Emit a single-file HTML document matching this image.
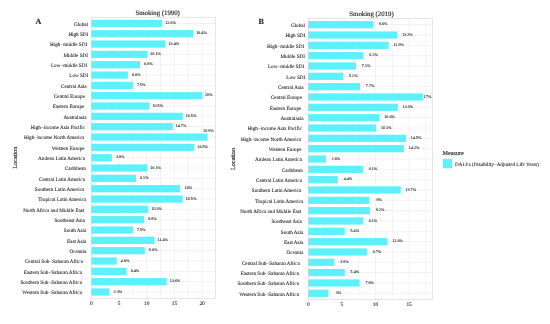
<!DOCTYPE html>
<html><head><meta charset="utf-8"><style>
html,body{margin:0;padding:0;background:#fff;}
svg{display:block;will-change:transform;}
text{font-family:"Liberation Serif",serif;fill:#222;stroke:#222;stroke-width:0.08px;text-rendering:geometricPrecision;}
text.big{stroke-width:0.14px;}
</style></head><body>
<svg width="550" height="324" viewBox="0 0 550 324">
<rect width="550" height="324" fill="#fff"/>
<g>
<line x1="105.15" y1="17.2" x2="105.15" y2="298.2" stroke="#e4e4e4" stroke-width="0.5"/>
<line x1="132.85" y1="17.2" x2="132.85" y2="298.2" stroke="#e4e4e4" stroke-width="0.5"/>
<line x1="160.55" y1="17.2" x2="160.55" y2="298.2" stroke="#e4e4e4" stroke-width="0.5"/>
<line x1="188.25" y1="17.2" x2="188.25" y2="298.2" stroke="#e4e4e4" stroke-width="0.5"/>
<line x1="119.00" y1="17.2" x2="119.00" y2="298.2" stroke="#e4e4e4" stroke-width="0.5"/>
<line x1="146.70" y1="17.2" x2="146.70" y2="298.2" stroke="#e4e4e4" stroke-width="0.5"/>
<line x1="174.40" y1="17.2" x2="174.40" y2="298.2" stroke="#e4e4e4" stroke-width="0.5"/>
<line x1="202.10" y1="17.2" x2="202.10" y2="298.2" stroke="#e4e4e4" stroke-width="0.5"/>
<line x1="91.3" y1="23.40" x2="215.7" y2="23.40" stroke="#e4e4e4" stroke-width="0.5"/>
<line x1="91.3" y1="33.73" x2="215.7" y2="33.73" stroke="#e4e4e4" stroke-width="0.5"/>
<line x1="91.3" y1="44.06" x2="215.7" y2="44.06" stroke="#e4e4e4" stroke-width="0.5"/>
<line x1="91.3" y1="54.39" x2="215.7" y2="54.39" stroke="#e4e4e4" stroke-width="0.5"/>
<line x1="91.3" y1="64.72" x2="215.7" y2="64.72" stroke="#e4e4e4" stroke-width="0.5"/>
<line x1="91.3" y1="75.05" x2="215.7" y2="75.05" stroke="#e4e4e4" stroke-width="0.5"/>
<line x1="91.3" y1="85.38" x2="215.7" y2="85.38" stroke="#e4e4e4" stroke-width="0.5"/>
<line x1="91.3" y1="95.71" x2="215.7" y2="95.71" stroke="#e4e4e4" stroke-width="0.5"/>
<line x1="91.3" y1="106.05" x2="215.7" y2="106.05" stroke="#e4e4e4" stroke-width="0.5"/>
<line x1="91.3" y1="116.38" x2="215.7" y2="116.38" stroke="#e4e4e4" stroke-width="0.5"/>
<line x1="91.3" y1="126.71" x2="215.7" y2="126.71" stroke="#e4e4e4" stroke-width="0.5"/>
<line x1="91.3" y1="137.04" x2="215.7" y2="137.04" stroke="#e4e4e4" stroke-width="0.5"/>
<line x1="91.3" y1="147.37" x2="215.7" y2="147.37" stroke="#e4e4e4" stroke-width="0.5"/>
<line x1="91.3" y1="157.70" x2="215.7" y2="157.70" stroke="#e4e4e4" stroke-width="0.5"/>
<line x1="91.3" y1="168.03" x2="215.7" y2="168.03" stroke="#e4e4e4" stroke-width="0.5"/>
<line x1="91.3" y1="178.36" x2="215.7" y2="178.36" stroke="#e4e4e4" stroke-width="0.5"/>
<line x1="91.3" y1="188.69" x2="215.7" y2="188.69" stroke="#e4e4e4" stroke-width="0.5"/>
<line x1="91.3" y1="199.02" x2="215.7" y2="199.02" stroke="#e4e4e4" stroke-width="0.5"/>
<line x1="91.3" y1="209.35" x2="215.7" y2="209.35" stroke="#e4e4e4" stroke-width="0.5"/>
<line x1="91.3" y1="219.69" x2="215.7" y2="219.69" stroke="#e4e4e4" stroke-width="0.5"/>
<line x1="91.3" y1="230.02" x2="215.7" y2="230.02" stroke="#e4e4e4" stroke-width="0.5"/>
<line x1="91.3" y1="240.35" x2="215.7" y2="240.35" stroke="#e4e4e4" stroke-width="0.5"/>
<line x1="91.3" y1="250.68" x2="215.7" y2="250.68" stroke="#e4e4e4" stroke-width="0.5"/>
<line x1="91.3" y1="261.01" x2="215.7" y2="261.01" stroke="#e4e4e4" stroke-width="0.5"/>
<line x1="91.3" y1="271.34" x2="215.7" y2="271.34" stroke="#e4e4e4" stroke-width="0.5"/>
<line x1="91.3" y1="281.67" x2="215.7" y2="281.67" stroke="#e4e4e4" stroke-width="0.5"/>
<line x1="91.3" y1="292.00" x2="215.7" y2="292.00" stroke="#e4e4e4" stroke-width="0.5"/>
<rect x="91.30" y="19.78" width="70.91" height="7.23" fill="#5df1fd"/>
<rect x="91.30" y="30.11" width="101.94" height="7.23" fill="#5df1fd"/>
<rect x="91.30" y="40.44" width="74.24" height="7.23" fill="#5df1fd"/>
<rect x="91.30" y="50.78" width="55.95" height="7.23" fill="#5df1fd"/>
<rect x="91.30" y="61.11" width="48.75" height="7.23" fill="#5df1fd"/>
<rect x="91.30" y="71.44" width="36.56" height="7.23" fill="#5df1fd"/>
<rect x="91.30" y="81.77" width="41.55" height="7.23" fill="#5df1fd"/>
<rect x="91.30" y="92.10" width="111.08" height="7.23" fill="#5df1fd"/>
<rect x="91.30" y="102.43" width="58.17" height="7.23" fill="#5df1fd"/>
<rect x="91.30" y="112.76" width="91.41" height="7.23" fill="#5df1fd"/>
<rect x="91.30" y="123.09" width="81.44" height="7.23" fill="#5df1fd"/>
<rect x="91.30" y="133.42" width="116.34" height="7.23" fill="#5df1fd"/>
<rect x="91.30" y="143.75" width="103.04" height="7.23" fill="#5df1fd"/>
<rect x="91.30" y="154.08" width="20.61" height="7.23" fill="#5df1fd"/>
<rect x="91.30" y="164.42" width="55.95" height="7.23" fill="#5df1fd"/>
<rect x="91.30" y="174.75" width="44.71" height="7.23" fill="#5df1fd"/>
<rect x="91.30" y="185.08" width="88.86" height="7.23" fill="#5df1fd"/>
<rect x="91.30" y="195.41" width="91.41" height="7.23" fill="#5df1fd"/>
<rect x="91.30" y="205.74" width="57.06" height="7.23" fill="#5df1fd"/>
<rect x="91.30" y="216.07" width="52.91" height="7.23" fill="#5df1fd"/>
<rect x="91.30" y="226.40" width="41.55" height="7.23" fill="#5df1fd"/>
<rect x="91.30" y="236.73" width="63.16" height="7.23" fill="#5df1fd"/>
<rect x="91.30" y="247.06" width="53.52" height="7.23" fill="#5df1fd"/>
<rect x="91.30" y="257.39" width="25.48" height="7.23" fill="#5df1fd"/>
<rect x="91.30" y="267.72" width="35.29" height="7.23" fill="#5df1fd"/>
<rect x="91.30" y="278.05" width="75.34" height="7.23" fill="#5df1fd"/>
<rect x="91.30" y="288.39" width="18.28" height="7.23" fill="#5df1fd"/>
<text x="170.52" y="24.00" font-size="4.1" text-anchor="middle">12.8%</text>
<text x="201.55" y="34.33" font-size="4.1" text-anchor="middle">18.4%</text>
<text x="173.85" y="44.66" font-size="4.1" text-anchor="middle">13.4%</text>
<text x="155.56" y="54.99" font-size="4.1" text-anchor="middle">10.1%</text>
<text x="148.36" y="65.32" font-size="4.1" text-anchor="middle">8.8%</text>
<text x="136.17" y="75.65" font-size="4.1" text-anchor="middle">6.6%</text>
<text x="141.16" y="85.98" font-size="4.1" text-anchor="middle">7.5%</text>
<text x="208.70" y="96.31" font-size="4.1" text-anchor="middle">20%</text>
<text x="157.78" y="106.65" font-size="4.1" text-anchor="middle">10.5%</text>
<text x="191.02" y="116.98" font-size="4.1" text-anchor="middle">16.5%</text>
<text x="181.05" y="127.31" font-size="4.1" text-anchor="middle">14.7%</text>
<text x="208.50" y="131.90" font-size="4.1" text-anchor="middle">20.9%</text>
<text x="202.65" y="147.97" font-size="4.1" text-anchor="middle">18.5%</text>
<text x="120.22" y="158.30" font-size="4.1" text-anchor="middle">3.8%</text>
<text x="155.56" y="168.63" font-size="4.1" text-anchor="middle">10.1%</text>
<text x="144.32" y="178.96" font-size="4.1" text-anchor="middle">8.1%</text>
<text x="188.47" y="189.29" font-size="4.1" text-anchor="middle">16%</text>
<text x="191.02" y="199.62" font-size="4.1" text-anchor="middle">16.5%</text>
<text x="156.67" y="209.95" font-size="4.1" text-anchor="middle">10.3%</text>
<text x="152.52" y="220.29" font-size="4.1" text-anchor="middle">9.5%</text>
<text x="141.16" y="230.62" font-size="4.1" text-anchor="middle">7.5%</text>
<text x="162.77" y="240.95" font-size="4.1" text-anchor="middle">11.4%</text>
<text x="153.13" y="251.28" font-size="4.1" text-anchor="middle">9.6%</text>
<text x="125.09" y="261.61" font-size="4.1" text-anchor="middle">4.6%</text>
<text x="134.90" y="271.94" font-size="4.1" text-anchor="middle">6.4%</text>
<text x="174.95" y="282.27" font-size="4.1" text-anchor="middle">13.6%</text>
<text x="117.89" y="292.60" font-size="4.1" text-anchor="middle">3.3%</text>
<rect x="91.3" y="17.2" width="124.39999999999999" height="281.0" fill="none" stroke="#cccccc" stroke-width="0.5"/>
<line x1="91.30" y1="298.2" x2="91.30" y2="299.4" stroke="#cccccc" stroke-width="0.5"/>
<text x="91.30" y="305.00" font-size="5.4" text-anchor="middle">0</text>
<line x1="119.00" y1="298.2" x2="119.00" y2="299.4" stroke="#cccccc" stroke-width="0.5"/>
<text x="119.00" y="305.00" font-size="5.4" text-anchor="middle">5</text>
<line x1="146.70" y1="298.2" x2="146.70" y2="299.4" stroke="#cccccc" stroke-width="0.5"/>
<text x="146.70" y="305.00" font-size="5.4" text-anchor="middle">10</text>
<line x1="174.40" y1="298.2" x2="174.40" y2="299.4" stroke="#cccccc" stroke-width="0.5"/>
<text x="174.40" y="305.00" font-size="5.4" text-anchor="middle">15</text>
<line x1="202.10" y1="298.2" x2="202.10" y2="299.4" stroke="#cccccc" stroke-width="0.5"/>
<text x="202.10" y="305.00" font-size="5.4" text-anchor="middle">20</text>
<line x1="90.1" y1="23.40" x2="91.3" y2="23.40" stroke="#cccccc" stroke-width="0.5"/>
<line x1="90.1" y1="33.73" x2="91.3" y2="33.73" stroke="#cccccc" stroke-width="0.5"/>
<line x1="90.1" y1="44.06" x2="91.3" y2="44.06" stroke="#cccccc" stroke-width="0.5"/>
<line x1="90.1" y1="54.39" x2="91.3" y2="54.39" stroke="#cccccc" stroke-width="0.5"/>
<line x1="90.1" y1="64.72" x2="91.3" y2="64.72" stroke="#cccccc" stroke-width="0.5"/>
<line x1="90.1" y1="75.05" x2="91.3" y2="75.05" stroke="#cccccc" stroke-width="0.5"/>
<line x1="90.1" y1="85.38" x2="91.3" y2="85.38" stroke="#cccccc" stroke-width="0.5"/>
<line x1="90.1" y1="95.71" x2="91.3" y2="95.71" stroke="#cccccc" stroke-width="0.5"/>
<line x1="90.1" y1="106.05" x2="91.3" y2="106.05" stroke="#cccccc" stroke-width="0.5"/>
<line x1="90.1" y1="116.38" x2="91.3" y2="116.38" stroke="#cccccc" stroke-width="0.5"/>
<line x1="90.1" y1="126.71" x2="91.3" y2="126.71" stroke="#cccccc" stroke-width="0.5"/>
<line x1="90.1" y1="137.04" x2="91.3" y2="137.04" stroke="#cccccc" stroke-width="0.5"/>
<line x1="90.1" y1="147.37" x2="91.3" y2="147.37" stroke="#cccccc" stroke-width="0.5"/>
<line x1="90.1" y1="157.70" x2="91.3" y2="157.70" stroke="#cccccc" stroke-width="0.5"/>
<line x1="90.1" y1="168.03" x2="91.3" y2="168.03" stroke="#cccccc" stroke-width="0.5"/>
<line x1="90.1" y1="178.36" x2="91.3" y2="178.36" stroke="#cccccc" stroke-width="0.5"/>
<line x1="90.1" y1="188.69" x2="91.3" y2="188.69" stroke="#cccccc" stroke-width="0.5"/>
<line x1="90.1" y1="199.02" x2="91.3" y2="199.02" stroke="#cccccc" stroke-width="0.5"/>
<line x1="90.1" y1="209.35" x2="91.3" y2="209.35" stroke="#cccccc" stroke-width="0.5"/>
<line x1="90.1" y1="219.69" x2="91.3" y2="219.69" stroke="#cccccc" stroke-width="0.5"/>
<line x1="90.1" y1="230.02" x2="91.3" y2="230.02" stroke="#cccccc" stroke-width="0.5"/>
<line x1="90.1" y1="240.35" x2="91.3" y2="240.35" stroke="#cccccc" stroke-width="0.5"/>
<line x1="90.1" y1="250.68" x2="91.3" y2="250.68" stroke="#cccccc" stroke-width="0.5"/>
<line x1="90.1" y1="261.01" x2="91.3" y2="261.01" stroke="#cccccc" stroke-width="0.5"/>
<line x1="90.1" y1="271.34" x2="91.3" y2="271.34" stroke="#cccccc" stroke-width="0.5"/>
<line x1="90.1" y1="281.67" x2="91.3" y2="281.67" stroke="#cccccc" stroke-width="0.5"/>
<line x1="90.1" y1="292.00" x2="91.3" y2="292.00" stroke="#cccccc" stroke-width="0.5"/>
<text x="87.95" y="25.60" font-size="5.15" text-anchor="end">Global</text>
<text x="88.25" y="35.93" font-size="5.15" text-anchor="end">High SDI</text>
<text x="87.15" y="46.26" font-size="5.15" text-anchor="end">High−middle SDI</text>
<text x="87.95" y="56.59" font-size="5.15" text-anchor="end">Middle SDI</text>
<text x="87.15" y="66.92" font-size="5.15" text-anchor="end">Low−middle SDI</text>
<text x="88.25" y="77.25" font-size="5.15" text-anchor="end">Low SDI</text>
<text x="86.65" y="87.58" font-size="5.15" text-anchor="end">Central Asia</text>
<text x="84.95" y="97.91" font-size="5.15" text-anchor="end">Central Europe</text>
<text x="84.25" y="108.25" font-size="5.15" text-anchor="end">Eastern Europe</text>
<text x="86.55" y="118.58" font-size="5.15" text-anchor="end">Australasia</text>
<text x="84.95" y="128.91" font-size="5.15" text-anchor="end">High−income Asia Pacific</text>
<text x="84.25" y="139.24" font-size="5.15" text-anchor="end">High−income North America</text>
<text x="84.55" y="149.57" font-size="5.15" text-anchor="end">Western Europe</text>
<text x="84.95" y="159.90" font-size="5.15" text-anchor="end">Andean Latin America</text>
<text x="85.85" y="170.23" font-size="5.15" text-anchor="end">Caribbean</text>
<text x="84.95" y="180.56" font-size="5.15" text-anchor="end">Central Latin America</text>
<text x="84.25" y="190.89" font-size="5.15" text-anchor="end">Southern Latin America</text>
<text x="86.25" y="201.22" font-size="5.15" text-anchor="end">Tropical Latin America</text>
<text x="84.25" y="211.55" font-size="5.15" text-anchor="end">North Africa and Middle East</text>
<text x="84.95" y="221.89" font-size="5.15" text-anchor="end">Southeast Asia</text>
<text x="86.25" y="232.22" font-size="5.15" text-anchor="end">South Asia</text>
<text x="86.25" y="242.55" font-size="5.15" text-anchor="end">East Asia</text>
<text x="86.25" y="252.88" font-size="5.15" text-anchor="end">Oceania</text>
<text x="82.95" y="263.21" font-size="5.15" text-anchor="end">Central Sub−Saharan Africa</text>
<text x="81.95" y="273.54" font-size="5.15" text-anchor="end">Eastern Sub−Saharan Africa</text>
<text x="81.95" y="283.87" font-size="5.15" text-anchor="end">Southern Sub−Saharan Africa</text>
<text x="81.95" y="294.20" font-size="5.15" text-anchor="end">Western Sub−Saharan Africa</text>
<text x="157.7" y="15.00" font-size="6.8" text-anchor="middle" class="big">Smoking (1990)</text>
<text x="35.6" y="23.6" font-size="8" font-weight="bold" text-anchor="start">A</text>
<text transform="translate(17.1,157.70) rotate(-90)" font-size="6.2" text-anchor="middle" class="big">Location</text>
<line x1="325.10" y1="18.5" x2="325.10" y2="299.5" stroke="#e4e4e4" stroke-width="0.5"/>
<line x1="358.70" y1="18.5" x2="358.70" y2="299.5" stroke="#e4e4e4" stroke-width="0.5"/>
<line x1="392.30" y1="18.5" x2="392.30" y2="299.5" stroke="#e4e4e4" stroke-width="0.5"/>
<line x1="425.90" y1="18.5" x2="425.90" y2="299.5" stroke="#e4e4e4" stroke-width="0.5"/>
<line x1="341.90" y1="18.5" x2="341.90" y2="299.5" stroke="#e4e4e4" stroke-width="0.5"/>
<line x1="375.50" y1="18.5" x2="375.50" y2="299.5" stroke="#e4e4e4" stroke-width="0.5"/>
<line x1="409.10" y1="18.5" x2="409.10" y2="299.5" stroke="#e4e4e4" stroke-width="0.5"/>
<line x1="308.3" y1="24.70" x2="432.6" y2="24.70" stroke="#e4e4e4" stroke-width="0.5"/>
<line x1="308.3" y1="35.03" x2="432.6" y2="35.03" stroke="#e4e4e4" stroke-width="0.5"/>
<line x1="308.3" y1="45.36" x2="432.6" y2="45.36" stroke="#e4e4e4" stroke-width="0.5"/>
<line x1="308.3" y1="55.69" x2="432.6" y2="55.69" stroke="#e4e4e4" stroke-width="0.5"/>
<line x1="308.3" y1="66.02" x2="432.6" y2="66.02" stroke="#e4e4e4" stroke-width="0.5"/>
<line x1="308.3" y1="76.35" x2="432.6" y2="76.35" stroke="#e4e4e4" stroke-width="0.5"/>
<line x1="308.3" y1="86.68" x2="432.6" y2="86.68" stroke="#e4e4e4" stroke-width="0.5"/>
<line x1="308.3" y1="97.01" x2="432.6" y2="97.01" stroke="#e4e4e4" stroke-width="0.5"/>
<line x1="308.3" y1="107.35" x2="432.6" y2="107.35" stroke="#e4e4e4" stroke-width="0.5"/>
<line x1="308.3" y1="117.68" x2="432.6" y2="117.68" stroke="#e4e4e4" stroke-width="0.5"/>
<line x1="308.3" y1="128.01" x2="432.6" y2="128.01" stroke="#e4e4e4" stroke-width="0.5"/>
<line x1="308.3" y1="138.34" x2="432.6" y2="138.34" stroke="#e4e4e4" stroke-width="0.5"/>
<line x1="308.3" y1="148.67" x2="432.6" y2="148.67" stroke="#e4e4e4" stroke-width="0.5"/>
<line x1="308.3" y1="159.00" x2="432.6" y2="159.00" stroke="#e4e4e4" stroke-width="0.5"/>
<line x1="308.3" y1="169.33" x2="432.6" y2="169.33" stroke="#e4e4e4" stroke-width="0.5"/>
<line x1="308.3" y1="179.66" x2="432.6" y2="179.66" stroke="#e4e4e4" stroke-width="0.5"/>
<line x1="308.3" y1="189.99" x2="432.6" y2="189.99" stroke="#e4e4e4" stroke-width="0.5"/>
<line x1="308.3" y1="200.32" x2="432.6" y2="200.32" stroke="#e4e4e4" stroke-width="0.5"/>
<line x1="308.3" y1="210.65" x2="432.6" y2="210.65" stroke="#e4e4e4" stroke-width="0.5"/>
<line x1="308.3" y1="220.99" x2="432.6" y2="220.99" stroke="#e4e4e4" stroke-width="0.5"/>
<line x1="308.3" y1="231.32" x2="432.6" y2="231.32" stroke="#e4e4e4" stroke-width="0.5"/>
<line x1="308.3" y1="241.65" x2="432.6" y2="241.65" stroke="#e4e4e4" stroke-width="0.5"/>
<line x1="308.3" y1="251.98" x2="432.6" y2="251.98" stroke="#e4e4e4" stroke-width="0.5"/>
<line x1="308.3" y1="262.31" x2="432.6" y2="262.31" stroke="#e4e4e4" stroke-width="0.5"/>
<line x1="308.3" y1="272.64" x2="432.6" y2="272.64" stroke="#e4e4e4" stroke-width="0.5"/>
<line x1="308.3" y1="282.97" x2="432.6" y2="282.97" stroke="#e4e4e4" stroke-width="0.5"/>
<line x1="308.3" y1="293.30" x2="432.6" y2="293.30" stroke="#e4e4e4" stroke-width="0.5"/>
<rect x="308.30" y="21.08" width="64.78" height="7.23" fill="#5df1fd"/>
<rect x="308.30" y="31.41" width="89.04" height="7.23" fill="#5df1fd"/>
<rect x="308.30" y="41.74" width="80.30" height="7.23" fill="#5df1fd"/>
<rect x="308.30" y="52.08" width="55.24" height="7.23" fill="#5df1fd"/>
<rect x="308.30" y="62.41" width="47.71" height="7.23" fill="#5df1fd"/>
<rect x="308.30" y="72.74" width="34.94" height="7.23" fill="#5df1fd"/>
<rect x="308.30" y="83.07" width="51.74" height="7.23" fill="#5df1fd"/>
<rect x="308.30" y="93.40" width="114.58" height="7.23" fill="#5df1fd"/>
<rect x="308.30" y="103.73" width="89.58" height="7.23" fill="#5df1fd"/>
<rect x="308.30" y="114.06" width="71.23" height="7.23" fill="#5df1fd"/>
<rect x="308.30" y="124.39" width="67.87" height="7.23" fill="#5df1fd"/>
<rect x="308.30" y="134.72" width="97.78" height="7.23" fill="#5df1fd"/>
<rect x="308.30" y="145.05" width="95.76" height="7.23" fill="#5df1fd"/>
<rect x="308.30" y="155.38" width="17.61" height="7.23" fill="#5df1fd"/>
<rect x="308.30" y="165.72" width="54.63" height="7.23" fill="#5df1fd"/>
<rect x="308.30" y="176.05" width="29.57" height="7.23" fill="#5df1fd"/>
<rect x="308.30" y="186.38" width="92.40" height="7.23" fill="#5df1fd"/>
<rect x="308.30" y="196.71" width="60.75" height="7.23" fill="#5df1fd"/>
<rect x="308.30" y="207.04" width="61.82" height="7.23" fill="#5df1fd"/>
<rect x="308.30" y="217.37" width="54.63" height="7.23" fill="#5df1fd"/>
<rect x="308.30" y="227.70" width="36.42" height="7.23" fill="#5df1fd"/>
<rect x="308.30" y="238.03" width="79.30" height="7.23" fill="#5df1fd"/>
<rect x="308.30" y="248.36" width="58.60" height="7.23" fill="#5df1fd"/>
<rect x="308.30" y="258.69" width="26.07" height="7.23" fill="#5df1fd"/>
<rect x="308.30" y="269.02" width="36.49" height="7.23" fill="#5df1fd"/>
<rect x="308.30" y="279.35" width="51.27" height="7.23" fill="#5df1fd"/>
<rect x="308.30" y="289.69" width="20.16" height="7.23" fill="#5df1fd"/>
<text x="383.16" y="25.30" font-size="4.1" text-anchor="middle">9.6%</text>
<text x="407.42" y="35.63" font-size="4.1" text-anchor="middle">13.2%</text>
<text x="398.68" y="45.96" font-size="4.1" text-anchor="middle">11.9%</text>
<text x="373.62" y="56.29" font-size="4.1" text-anchor="middle">8.2%</text>
<text x="366.09" y="66.62" font-size="4.1" text-anchor="middle">7.1%</text>
<text x="353.32" y="76.95" font-size="4.1" text-anchor="middle">5.2%</text>
<text x="370.12" y="87.28" font-size="4.1" text-anchor="middle">7.7%</text>
<text x="427.60" y="97.61" font-size="4.1" text-anchor="middle">17%</text>
<text x="407.96" y="107.95" font-size="4.1" text-anchor="middle">13.3%</text>
<text x="389.61" y="118.28" font-size="4.1" text-anchor="middle">10.6%</text>
<text x="386.25" y="128.61" font-size="4.1" text-anchor="middle">10.1%</text>
<text x="416.16" y="138.94" font-size="4.1" text-anchor="middle">14.5%</text>
<text x="414.14" y="149.27" font-size="4.1" text-anchor="middle">14.2%</text>
<text x="335.99" y="159.60" font-size="4.1" text-anchor="middle">2.6%</text>
<text x="373.01" y="169.93" font-size="4.1" text-anchor="middle">8.1%</text>
<text x="347.95" y="180.26" font-size="4.1" text-anchor="middle">4.4%</text>
<text x="410.78" y="190.59" font-size="4.1" text-anchor="middle">13.7%</text>
<text x="379.13" y="200.92" font-size="4.1" text-anchor="middle">9%</text>
<text x="380.20" y="211.25" font-size="4.1" text-anchor="middle">9.2%</text>
<text x="373.01" y="221.59" font-size="4.1" text-anchor="middle">8.1%</text>
<text x="354.80" y="231.92" font-size="4.1" text-anchor="middle">5.4%</text>
<text x="397.68" y="242.25" font-size="4.1" text-anchor="middle">11.8%</text>
<text x="376.98" y="252.58" font-size="4.1" text-anchor="middle">8.7%</text>
<text x="344.45" y="262.91" font-size="4.1" text-anchor="middle">3.9%</text>
<text x="354.87" y="273.24" font-size="4.1" text-anchor="middle">5.4%</text>
<text x="369.65" y="283.57" font-size="4.1" text-anchor="middle">7.6%</text>
<text x="338.54" y="293.90" font-size="4.1" text-anchor="middle">3%</text>
<rect x="308.3" y="18.5" width="124.30000000000001" height="281.0" fill="none" stroke="#cccccc" stroke-width="0.5"/>
<line x1="308.30" y1="299.5" x2="308.30" y2="300.7" stroke="#cccccc" stroke-width="0.5"/>
<text x="308.30" y="306.30" font-size="5.4" text-anchor="middle">0</text>
<line x1="341.90" y1="299.5" x2="341.90" y2="300.7" stroke="#cccccc" stroke-width="0.5"/>
<text x="341.90" y="306.30" font-size="5.4" text-anchor="middle">5</text>
<line x1="375.50" y1="299.5" x2="375.50" y2="300.7" stroke="#cccccc" stroke-width="0.5"/>
<text x="375.50" y="306.30" font-size="5.4" text-anchor="middle">10</text>
<line x1="409.10" y1="299.5" x2="409.10" y2="300.7" stroke="#cccccc" stroke-width="0.5"/>
<text x="409.10" y="306.30" font-size="5.4" text-anchor="middle">15</text>
<line x1="307.1" y1="24.70" x2="308.3" y2="24.70" stroke="#cccccc" stroke-width="0.5"/>
<line x1="307.1" y1="35.03" x2="308.3" y2="35.03" stroke="#cccccc" stroke-width="0.5"/>
<line x1="307.1" y1="45.36" x2="308.3" y2="45.36" stroke="#cccccc" stroke-width="0.5"/>
<line x1="307.1" y1="55.69" x2="308.3" y2="55.69" stroke="#cccccc" stroke-width="0.5"/>
<line x1="307.1" y1="66.02" x2="308.3" y2="66.02" stroke="#cccccc" stroke-width="0.5"/>
<line x1="307.1" y1="76.35" x2="308.3" y2="76.35" stroke="#cccccc" stroke-width="0.5"/>
<line x1="307.1" y1="86.68" x2="308.3" y2="86.68" stroke="#cccccc" stroke-width="0.5"/>
<line x1="307.1" y1="97.01" x2="308.3" y2="97.01" stroke="#cccccc" stroke-width="0.5"/>
<line x1="307.1" y1="107.35" x2="308.3" y2="107.35" stroke="#cccccc" stroke-width="0.5"/>
<line x1="307.1" y1="117.68" x2="308.3" y2="117.68" stroke="#cccccc" stroke-width="0.5"/>
<line x1="307.1" y1="128.01" x2="308.3" y2="128.01" stroke="#cccccc" stroke-width="0.5"/>
<line x1="307.1" y1="138.34" x2="308.3" y2="138.34" stroke="#cccccc" stroke-width="0.5"/>
<line x1="307.1" y1="148.67" x2="308.3" y2="148.67" stroke="#cccccc" stroke-width="0.5"/>
<line x1="307.1" y1="159.00" x2="308.3" y2="159.00" stroke="#cccccc" stroke-width="0.5"/>
<line x1="307.1" y1="169.33" x2="308.3" y2="169.33" stroke="#cccccc" stroke-width="0.5"/>
<line x1="307.1" y1="179.66" x2="308.3" y2="179.66" stroke="#cccccc" stroke-width="0.5"/>
<line x1="307.1" y1="189.99" x2="308.3" y2="189.99" stroke="#cccccc" stroke-width="0.5"/>
<line x1="307.1" y1="200.32" x2="308.3" y2="200.32" stroke="#cccccc" stroke-width="0.5"/>
<line x1="307.1" y1="210.65" x2="308.3" y2="210.65" stroke="#cccccc" stroke-width="0.5"/>
<line x1="307.1" y1="220.99" x2="308.3" y2="220.99" stroke="#cccccc" stroke-width="0.5"/>
<line x1="307.1" y1="231.32" x2="308.3" y2="231.32" stroke="#cccccc" stroke-width="0.5"/>
<line x1="307.1" y1="241.65" x2="308.3" y2="241.65" stroke="#cccccc" stroke-width="0.5"/>
<line x1="307.1" y1="251.98" x2="308.3" y2="251.98" stroke="#cccccc" stroke-width="0.5"/>
<line x1="307.1" y1="262.31" x2="308.3" y2="262.31" stroke="#cccccc" stroke-width="0.5"/>
<line x1="307.1" y1="272.64" x2="308.3" y2="272.64" stroke="#cccccc" stroke-width="0.5"/>
<line x1="307.1" y1="282.97" x2="308.3" y2="282.97" stroke="#cccccc" stroke-width="0.5"/>
<line x1="307.1" y1="293.30" x2="308.3" y2="293.30" stroke="#cccccc" stroke-width="0.5"/>
<text x="304.95" y="26.90" font-size="5.15" text-anchor="end">Global</text>
<text x="305.25" y="37.23" font-size="5.15" text-anchor="end">High SDI</text>
<text x="304.15" y="47.56" font-size="5.15" text-anchor="end">High−middle SDI</text>
<text x="304.95" y="57.89" font-size="5.15" text-anchor="end">Middle SDI</text>
<text x="304.15" y="68.22" font-size="5.15" text-anchor="end">Low−middle SDI</text>
<text x="305.25" y="78.55" font-size="5.15" text-anchor="end">Low SDI</text>
<text x="303.65" y="88.88" font-size="5.15" text-anchor="end">Central Asia</text>
<text x="301.95" y="99.21" font-size="5.15" text-anchor="end">Central Europe</text>
<text x="301.25" y="109.55" font-size="5.15" text-anchor="end">Eastern Europe</text>
<text x="303.55" y="119.88" font-size="5.15" text-anchor="end">Australasia</text>
<text x="301.95" y="130.21" font-size="5.15" text-anchor="end">High−income Asia Pacific</text>
<text x="301.25" y="140.54" font-size="5.15" text-anchor="end">High−income North America</text>
<text x="301.55" y="150.87" font-size="5.15" text-anchor="end">Western Europe</text>
<text x="301.95" y="161.20" font-size="5.15" text-anchor="end">Andean Latin America</text>
<text x="302.85" y="171.53" font-size="5.15" text-anchor="end">Caribbean</text>
<text x="301.95" y="181.86" font-size="5.15" text-anchor="end">Central Latin America</text>
<text x="301.25" y="192.19" font-size="5.15" text-anchor="end">Southern Latin America</text>
<text x="303.25" y="202.52" font-size="5.15" text-anchor="end">Tropical Latin America</text>
<text x="301.25" y="212.85" font-size="5.15" text-anchor="end">North Africa and Middle East</text>
<text x="301.95" y="223.19" font-size="5.15" text-anchor="end">Southeast Asia</text>
<text x="303.25" y="233.52" font-size="5.15" text-anchor="end">South Asia</text>
<text x="303.25" y="243.85" font-size="5.15" text-anchor="end">East Asia</text>
<text x="303.25" y="254.18" font-size="5.15" text-anchor="end">Oceania</text>
<text x="299.95" y="264.51" font-size="5.15" text-anchor="end">Central Sub−Saharan Africa</text>
<text x="298.95" y="274.84" font-size="5.15" text-anchor="end">Eastern Sub−Saharan Africa</text>
<text x="298.95" y="285.17" font-size="5.15" text-anchor="end">Southern Sub−Saharan Africa</text>
<text x="298.95" y="295.50" font-size="5.15" text-anchor="end">Western Sub−Saharan Africa</text>
<text x="371.5" y="16.30" font-size="6.8" text-anchor="middle" class="big">Smoking (2019)</text>
<text x="258.6" y="23.6" font-size="8" font-weight="bold" text-anchor="start">B</text>
<text transform="translate(234.5,159.00) rotate(-90)" font-size="6.2" text-anchor="middle" class="big">Location</text>
<text x="442.5" y="155.3" font-size="6.2" class="big">Measure</text>
<rect x="442.7" y="159.1" width="9.4" height="9.2" fill="#5df1fd"/>
<text x="455.1" y="166.2" font-size="5.1">DALYs (Disability−Adjusted Life Years)</text>
</g>
</svg>
</body></html>
